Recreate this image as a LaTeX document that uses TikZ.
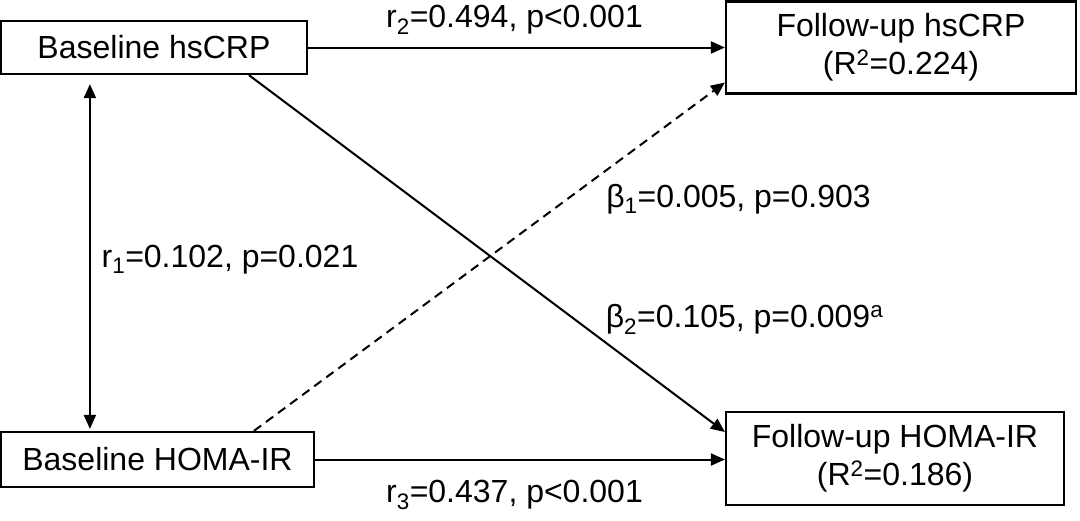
\documentclass[tikz,border=0pt]{standalone}
\usepackage{fontspec}
\setmainfont{Liberation Sans}
\usetikzlibrary{arrows.meta}
\begin{document}
\begin{tikzpicture}[x=1pt,y=-1pt,
  box/.style={draw,line width=2.2pt,inner sep=0pt,align=center,font=\fontsize{32}{38}\selectfont},
  lbl/.style={anchor=base,inner sep=0pt,font=\fontsize{32}{38}\selectfont},
  conn/.style={line width=2pt,-{Triangle[length=14pt,width=12pt]}},
  every node/.append style={text=black}]
\useasboundingbox (0,0) rectangle (1080,520);
\node[box,minimum width=306pt,minimum height=53pt] (hsb) at (154,47.5) {Baseline hsCRP};
\node[box,minimum width=350pt,minimum height=92pt] (hsf) at (901,47.5) {Follow-up hsCRP\\(R\textsuperscript{2}=0.224)};
\node[box,minimum width=313pt,minimum height=55pt] (hmb) at (157.5,459.5) {Baseline HOMA-IR};
\node[box,minimum width=338pt,minimum height=93pt] (hmf) at (895,458.5) {Follow-up HOMA-IR\\(R\textsuperscript{2}=0.186)};

\draw[conn] (hsb.east) -- (hsb.east -| hsf.west);
\draw[conn,{Triangle[length=14pt,width=12pt]}-{Triangle[length=14pt,width=12pt]}] ([xshift=90pt,yshift=-9pt]hsb.south west) -- ([xshift=90pt,yshift=2pt]hmb.north west);
\draw[conn,dashed,dash pattern=on 9pt off 6pt] ([xshift=254pt]hmb.north west) -- ([yshift=-35pt]hsf.west);
\draw[conn] ([xshift=249pt]hsb.south west) -- ([yshift=26.5pt]hmf.west);
\draw[conn] (hmb.east) -- (hmb.east -| hmf.west);

\node[lbl] (l2) at (514.5,27) {r\textsubscript{2}=0.494, p<0.001};
\node[lbl] (lb1) at (738.5,207) {β\textsubscript{1}=0.005, p=0.903};
\node[lbl] (l1) at (230,267) {r\textsubscript{1}=0.102, p=0.021};
\node[lbl] (lb2) at (744.5,327) {β\textsubscript{2}=0.105, p=0.009\textsuperscript{a}};
\node[lbl] (l3) at (514.5,502) {r\textsubscript{3}=0.437, p<0.001};
\end{tikzpicture}
\end{document}
